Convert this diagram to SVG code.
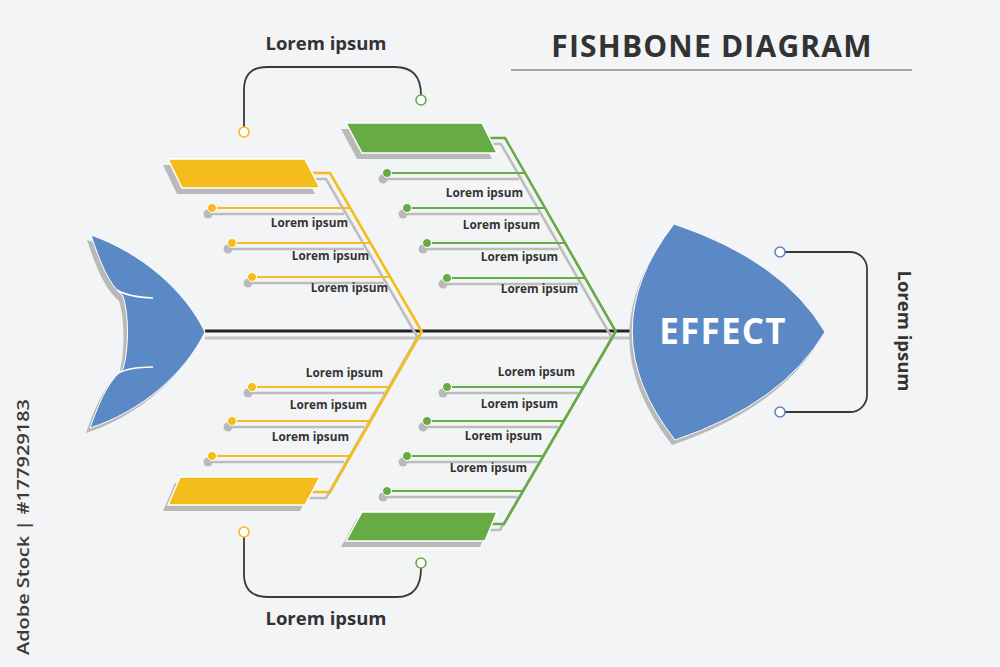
<svg xmlns="http://www.w3.org/2000/svg" width="1000" height="667" viewBox="0 0 1000 667">
<style>
.sh{fill:#b9b9b9}
.shl{stroke:#bdbdbd;stroke-width:2.6;fill:none}
.yl{stroke:#f4bd1c;fill:none}
.gl{stroke:#67ab45;fill:none}
.main{stroke-width:2.6}
.br{stroke-width:2}
.yd{fill:#f4bd1c;stroke:#fff;stroke-width:1}
.gd{fill:#67ab45;stroke:#fff;stroke-width:1}
.ybox{fill:#f4bd1c;stroke:#fff;stroke-width:1.5}
.gbox{fill:#67ab45;stroke:#fff;stroke-width:1.5}
.lbl{font-family:"Open Sans","Liberation Sans",sans-serif;font-weight:700;font-size:11.8px;fill:#333;text-anchor:end}
.big{font-family:"Open Sans","Liberation Sans",sans-serif;font-weight:700;font-size:18.5px;fill:#333;text-anchor:middle}
.conn{stroke:#3a3a3a;stroke-width:1.8;fill:none}
.blue{fill:#5b89c5}
</style>
<rect width="1000" height="667" fill="#f3f4f6"/>

<g id="title">
<text x="712" y="57" font-family="'Open Sans','Liberation Sans',sans-serif" font-weight="700" font-size="30" letter-spacing="1.2" fill="#333" text-anchor="middle">FISHBONE DIAGRAM</text>
<line x1="511" y1="70" x2="912" y2="70" stroke="#555" stroke-width="1.2"/>
</g>

<g id="watermark-text">
<text transform="translate(29,527) rotate(-90)" font-family="'Open Sans','Liberation Sans',sans-serif" font-weight="600" font-size="17" textLength="256" lengthAdjust="spacingAndGlyphs" fill="#3a3a3a" text-anchor="middle">Adobe Stock | #177929183</text>
</g>

<g id="spine">
<line x1="205" y1="338" x2="632" y2="338" stroke="#c4c4c4" stroke-width="3"/>
<line x1="205" y1="331" x2="634" y2="331" stroke="#222" stroke-width="3"/>
</g>

<g id="tail">
<path class="sh" transform="translate(-4,5)" d="M91,235 C140,252 185,290 205,332 C185,374 140,412 90,428 C100,400 108,382 123,369 C129,350 129,314 123,296 C108,283 100,262 91,235 Z"/>
<path class="blue" stroke="#fff" stroke-width="1" d="M91,235 C140,252 185,290 205,332 C185,374 140,412 90,428 C100,400 108,382 123,369 C129,350 129,314 123,296 C108,283 100,262 91,235 Z"/>
<path d="M117,290 Q128,297 153,298" stroke="#fff" stroke-width="1.6" fill="none"/>
<path d="M117,374 Q128,367 153,367" stroke="#fff" stroke-width="1.6" fill="none"/>
</g>

<g id="connectors">
<g class="shl">
<polyline points="310,179 326,179 418,338"/>
<polyline points="487,144 501,144 612,338"/>
<polyline points="417,338 326,498 308,498"/>
<polyline points="612,338 500,530 488,530"/>
<path d="M208,214 H344 M228,249 H364 M248,283 H384"/>
<path d="M383,179 H519 M403,214 H539 M423,249 H559 M443,284 H579"/>
<path d="M248,393 H384 M228,427 H364 M208,462 H344"/>
<path d="M443,393 H578 M423,427 H558 M403,462 H538 M383,497 H517"/>
</g>
<g class="sh">
<circle cx="208" cy="214" r="4.5"/><circle cx="228" cy="249" r="4.5"/><circle cx="248" cy="283" r="4.5"/>
<circle cx="383" cy="179" r="4.5"/><circle cx="403" cy="214" r="4.5"/><circle cx="423" cy="249" r="4.5"/><circle cx="443" cy="284" r="4.5"/>
<circle cx="248" cy="393" r="4.5"/><circle cx="228" cy="427" r="4.5"/><circle cx="208" cy="462" r="4.5"/>
<circle cx="443" cy="393" r="4.5"/><circle cx="423" cy="427" r="4.5"/><circle cx="403" cy="462" r="4.5"/><circle cx="383" cy="497" r="4.5"/>
</g>
<polyline class="yl main" points="312,173 330,173 422,332"/>
<polyline class="gl main" points="489,138 505,138 616,332"/>
<polyline class="yl main" points="422,331 330,492 312,492"/>
<polyline class="gl main" points="616,331 504,524 492,524"/>
<path class="yl br" d="M212,208 H350 M232,243 H370 M252,277 H390"/>
<path class="gl br" d="M387,173 H525 M407,208 H545 M427,243 H565 M447,278 H585"/>
<path class="yl br" d="M252,387 H390 M232,421 H370 M212,456 H351"/>
<path class="gl br" d="M447,387 H584 M427,421 H564 M407,456 H544 M387,491 H523"/>
<g class="yd">
<circle cx="212" cy="208" r="4.5"/><circle cx="232" cy="243" r="4.5"/><circle cx="252" cy="277" r="4.5"/>
<circle cx="252" cy="387" r="4.5"/><circle cx="232" cy="421" r="4.5"/><circle cx="212" cy="456" r="4.5"/>
</g>
<g class="gd">
<circle cx="387" cy="173" r="4.5"/><circle cx="407" cy="208" r="4.5"/><circle cx="427" cy="243" r="4.5"/><circle cx="447" cy="278" r="4.5"/>
<circle cx="447" cy="387" r="4.5"/><circle cx="427" cy="421" r="4.5"/><circle cx="407" cy="456" r="4.5"/><circle cx="387" cy="491" r="4.5"/>
</g>
<path class="conn" d="M244,127 V90 Q244,67 267,67 H395 Q421,67 421,95"/>
<path class="conn" d="M244,537 V574 Q244,597 268,597 H397 Q421,597 421,568"/>
<path class="conn" d="M785,252 H850 A17,17 0 0 1 867,269 V395 A17,17 0 0 1 850,412 H785"/>
<circle cx="244" cy="132" r="5" fill="#fff" stroke="#f4bd1c" stroke-width="1.6"/>
<circle cx="421" cy="100" r="5" fill="#fff" stroke="#67ab45" stroke-width="1.6"/>
<circle cx="244" cy="532" r="5" fill="#fff" stroke="#f4bd1c" stroke-width="1.6"/>
<circle cx="421" cy="563" r="5" fill="#fff" stroke="#67ab45" stroke-width="1.6"/>
<circle cx="780" cy="252" r="5" fill="#fff" stroke="#5b89c5" stroke-width="1.6"/>
<circle cx="780" cy="412" r="5" fill="#fff" stroke="#5b89c5" stroke-width="1.6"/>
</g>

<g id="cause-top-yellow">
<polygon class="sh" points="163,165 300,165 315,194 177,194"/>
<polygon class="ybox" points="168,159 305,159 320,188 182,188"/>
<text class="lbl" x="348" y="227">Lorem ipsum</text>
<text class="lbl" x="369" y="260">Lorem ipsum</text>
<text class="lbl" x="388" y="292">Lorem ipsum</text>
</g>

<g id="cause-top-green">
<polygon class="sh" points="341,129 477,129 492,159 357,159"/>
<polygon class="gbox" points="346,123 482,123 497,153 362,153"/>
<text class="lbl" x="523" y="197">Lorem ipsum</text>
<text class="lbl" x="540" y="229">Lorem ipsum</text>
<text class="lbl" x="558" y="261">Lorem ipsum</text>
<text class="lbl" x="578" y="293">Lorem ipsum</text>
</g>

<g id="cause-bottom-yellow">
<polygon class="sh" points="175,483 315,483 300,511 163,511"/>
<polygon class="ybox" points="180,477 320,477 305,505 168,505"/>
<text class="lbl" x="383" y="377">Lorem ipsum</text>
<text class="lbl" x="367" y="409">Lorem ipsum</text>
<text class="lbl" x="349" y="441">Lorem ipsum</text>
</g>

<g id="cause-bottom-green">
<polygon class="sh" points="357,518 492,518 480,547 341,547"/>
<polygon class="gbox" points="362,512 497,512 485,541 346,541"/>
<text class="lbl" x="575" y="376">Lorem ipsum</text>
<text class="lbl" x="558" y="408">Lorem ipsum</text>
<text class="lbl" x="542" y="440">Lorem ipsum</text>
<text class="lbl" x="527" y="472">Lorem ipsum</text>
</g>

<g id="effect">
<path class="sh" transform="translate(-3,5)" d="M674,224 Q782,260 825,332 Q782,404 675,440 Q590,332 674,224 Z"/>
<path class="blue" stroke="#fff" stroke-width="1" d="M674,224 Q782,260 825,332 Q782,404 675,440 Q590,332 674,224 Z"/>
<text x="723" y="344" font-family="'Open Sans','Liberation Sans',sans-serif" font-weight="700" font-size="35" letter-spacing="1.2" fill="#fff" text-anchor="middle">EFFECT</text>
</g>

<g id="label-top"><text class="big" x="326" y="50">Lorem ipsum</text></g>
<g id="label-bottom"><text class="big" x="326" y="625">Lorem ipsum</text></g>
<g id="label-right"><text class="big" transform="translate(898,331) rotate(90)">Lorem ipsum</text></g>
</svg>
